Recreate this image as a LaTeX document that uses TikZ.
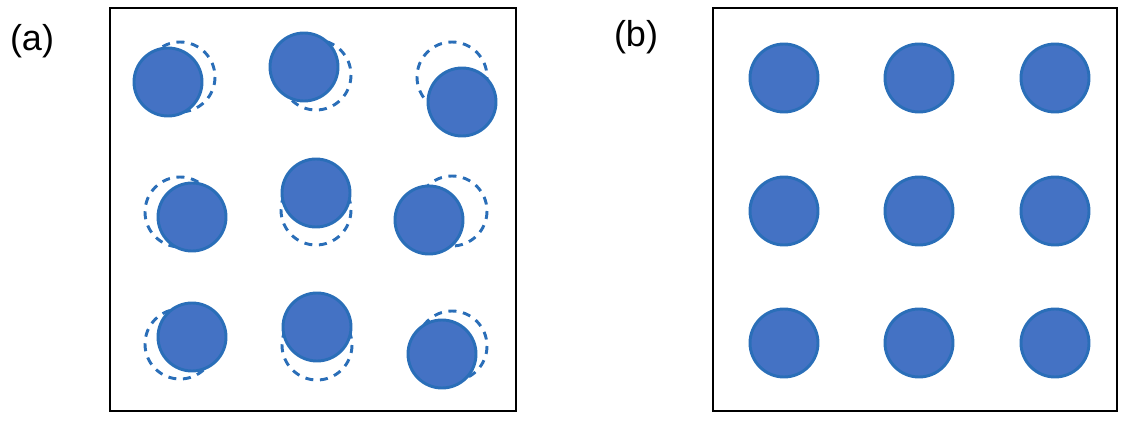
\documentclass[tikz,border=0pt]{standalone}
\usepackage{fontspec}
\setmainfont{Liberation Sans}
\begin{document}
\begin{tikzpicture}[x=0.75pt,y=-0.75pt,
  dot/.style={fill=dotfill,draw=dotline,line width=2.2pt},
  ghost/.style={draw=dotline,line width=2.2pt,dash pattern=on 6pt off 5pt},
  frame/.style={draw=black,line width=1.8pt},
  lab/.style={font=\fontsize{27}{27}\selectfont,inner sep=0pt}]
\definecolor{dotfill}{HTML}{4472C4}
\definecolor{dotline}{HTML}{2A6EB8}
\useasboundingbox (0,0) rectangle (1125,421);
\node[lab] (la) at (32,41) {(a)};
\node[lab] (lb) at (636,37) {(b)};
\draw[frame] (110,8) rectangle (516,411);
\draw[frame] (713,8) rectangle (1117,411);
% ghosts
\foreach \x/\y in {180/77,316/75,452/77,180/212,316/210,452/211,180/344,317/345,452/346}
  \draw[ghost] (\x,\y) circle[radius=35];
\foreach \x/\y in {168/82,304/67,462/102,192/217,316/193,429/220,192/337,317/327,442/354}
  \draw[dot] (\x,\y) circle[radius=34];
\foreach \x in {784,919,1055}
  \foreach \y in {78,211,343}
    \draw[dot] (\x,\y) circle[radius=34];
\end{tikzpicture}
\end{document}
